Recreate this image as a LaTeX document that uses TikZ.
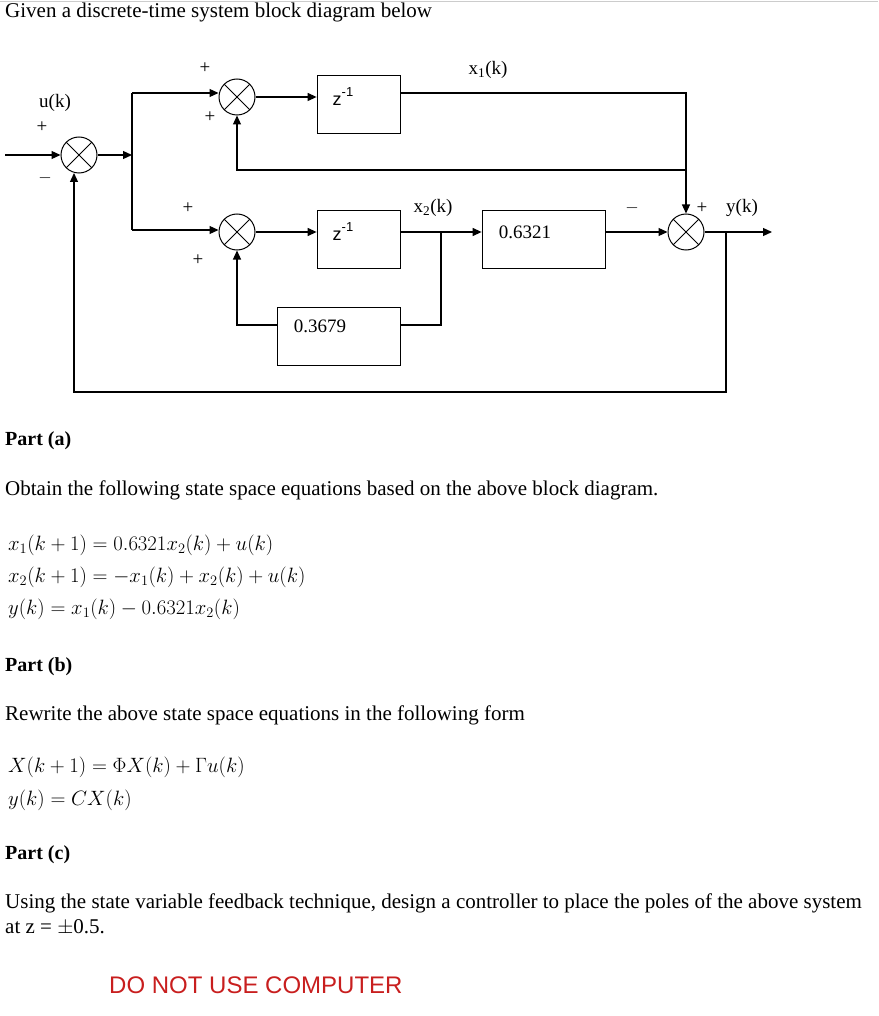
\documentclass[tikz,border=0pt]{standalone}
\usepackage{fontspec}
\setmainfont{Liberation Serif}
\newfontfamily\sansf{Liberation Sans}
\usetikzlibrary{arrows.meta}
\begin{document}
\begin{tikzpicture}[x=1pt,y=-1pt,
  sum/.style={circle,draw,line width=1pt,minimum size=36pt,inner sep=0pt,path picture={\draw[line width=1pt] (path picture bounding box.north west)--(path picture bounding box.south east) (path picture bounding box.north east)--(path picture bounding box.south west);}},
  blk/.style={draw,line width=0.8pt,minimum width=83pt,minimum height=58pt,inner sep=0pt},
  ln/.style={line width=1.2pt},
  ar/.style={line width=1.2pt,-{Triangle[length=9pt,width=8pt]}},
  t/.style={font=\fontsize{19}{22}\selectfont,inner sep=0pt},
  tx/.style={font=\fontsize{21}{25}\selectfont,inner sep=0pt,anchor=west},
  eq/.style={font=\fontsize{20}{24}\selectfont,inner sep=0pt,anchor=west}]
\useasboundingbox (0,0) rectangle (878,1016);
\draw[gray!40] (0,1)--(878,1);
\node[tx] (title) at (5,12) {Given a discrete-time system block diagram below};
% junctions
\node[sum] (s1) at (79,155) {};
\node[sum] (s2) at (237,97) {};
\node[sum] (s3) at (237,232) {};
\node[sum] (s4) at (686,232) {};
% blocks
\node[blk] (b1) at (358.5,104) {};
\node[t,font=\fontsize{18}{20}\sansf] (z1) at (343,97) {z\raisebox{0.5em}{\fontsize{13}{14}\selectfont -1}};
\node[blk] (b2) at (358.5,239) {};
\node[t,font=\fontsize{18}{20}\sansf] (z2) at (343,232) {z\raisebox{0.5em}{\fontsize{13}{14}\selectfont -1}};
\node[blk,minimum width=123pt] (b3) at (543.5,239) {};
\node[t] (g1) at (525,232) {0.6321};
\node[blk,minimum width=123pt] (b4) at (338.5,336) {};
\node[t] (g2) at (320,326) {0.3679};
% labels
\node[t] (uk) at (55,103) {u(k)};
\node[t] (p1) at (42,127) {+};
\node[t] (m1) at (45,178) {$-$};
\node[t] (p2) at (205,68) {+};
\node[t] (p3) at (210,117) {+};
\node[t] (p4) at (188,208) {+};
\node[t] (p5) at (198,260) {+};
\node[t] (x1) at (488,70) {x\textsubscript{1}(k)};
\node[t] (x2) at (433,208) {x\textsubscript{2}(k)};
\node[t] (m4) at (632,208) {$-$};
\node[t] (p6) at (702,208) {+};
\node[t] (yk) at (742,208) {y(k)};
% coordinates
\coordinate (in) at (5,155);
\coordinate (sp) at (132,155);
\coordinate (out) at (772,232);
% connectors
\draw[ar] (in) -- (s1.west);
\draw[ar] (s1.east) -- (sp);
\draw[ln] (132,93) -- (132,230);
\draw[ar] (132,93) -- (s2.west|-132,93);
\draw[ar] (132,230) -- (s3.west|-132,230);
\draw[ar] (s2.east) -- (b1.west|-s2);
\draw[ar] (s3.east) -- (b2.west|-s3);
\draw[ar] (b1.east|-0,93) -- (686,93) -- (s4.north);
\draw[ar] (686,170) -- (237,170) -- (s2.south);
\draw[ar] (b2.east|-s3) -- (b3.west|-s3);
\draw[ln] (441,232) -- (441,325) -- (b4.east|-0,325);
\draw[ar] (b4.west|-0,325) -- (237,325) -- (s3.south);
\draw[ar] (b3.east|-s4) -- (s4.west);
\draw[ar] (s4.east) -- (out);
\draw[ar] (726,232) -- (726,392) -- (74,392) -- (74,173);
% text
\node[tx,font=\fontsize{20}{24}\selectfont\bfseries] (pa) at (5,441) {Part (a)};
\node[tx] (ta) at (5,490) {Obtain the following state space equations based on the above block diagram.};
\node[eq] (e1) at (8,545) {$x_1(k+1)=0.6321x_2(k)+u(k)$};
\node[eq] (e2) at (8,577) {$x_2(k+1)=-x_1(k)+x_2(k)+u(k)$};
\node[eq] (e3) at (8,609) {$y(k)=x_1(k)-0.6321x_2(k)$};
\node[tx,font=\fontsize{20}{24}\selectfont\bfseries] (pb) at (5,667) {Part (b)};
\node[tx] (tb) at (5,715) {Rewrite the above state space equations in the following form};
\node[eq] (e4) at (8,767) {$X(k+1)=\Phi X(k)+\Gamma u(k)$};
\node[eq] (e5) at (8,800) {$y(k)=CX(k)$};
\node[tx,font=\fontsize{20}{24}\selectfont\bfseries] (pc) at (5,855) {Part (c)};
\node[tx] (tc) at (5,903) {Using the state variable feedback technique, design a controller to place the poles of the above system};
\node[tx] (tc2) at (5,927) {at z = $\pm$0.5.};
\node[tx,font=\fontsize{24}{28}\sansf,text={rgb,255:red,200;green,30;blue,30}] (dn) at (109,985) {DO NOT USE COMPUTER};
\end{tikzpicture}
\end{document}
